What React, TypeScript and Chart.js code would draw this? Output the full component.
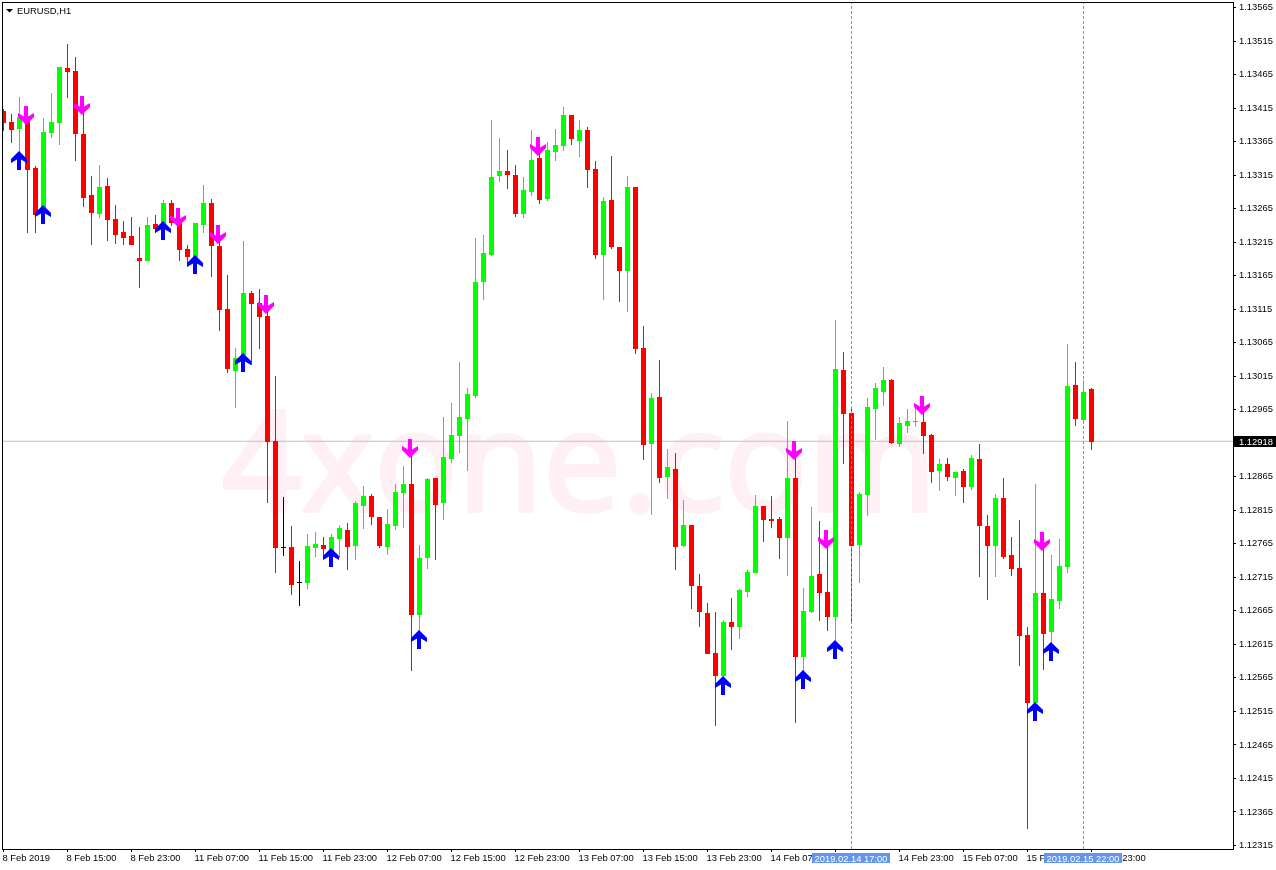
import React, { useEffect, useRef } from 'react';
import { Chart, registerables } from 'chart.js';

Chart.register(...registerables);

const symbolLabel = 'EURUSD,H1';
const watermark = '4xone.com';
const bidPrice = 1.12918;

const opens = [
  1.13411, 1.13394, 1.13384, 1.13397, 1.13326, 1.13258, 1.13378, 1.13393, 1.13475, 1.13470,
  1.13376, 1.13285, 1.13257, 1.13299, 1.13249, 1.13230, 1.13224, 1.13191, 1.13187, 1.13242,
  1.13242, 1.13273, 1.13244, 1.13205, 1.13193, 1.13241, 1.13273, 1.13209, 1.13115, 1.13023,
  1.13047, 1.13139, 1.13124, 1.13105, 1.12918, 1.12760, 1.12760, 1.12708, 1.12707, 1.12759,
  1.12763, 1.12753, 1.12772, 1.12786, 1.12762, 1.12821, 1.12836, 1.12805, 1.12760, 1.12792,
  1.12841, 1.12854, 1.12659, 1.12744, 1.12863, 1.12826, 1.12891, 1.12926, 1.12951, 1.12985,
  1.13156, 1.13196, 1.13314, 1.13321, 1.13315, 1.13257, 1.13290, 1.13340, 1.13279, 1.13349,
  1.13358, 1.13405, 1.13366, 1.13382, 1.13324, 1.13196, 1.13278, 1.13208, 1.13172, 1.13297,
  1.13057, 1.12914, 1.12984, 1.12865, 1.12877, 1.12762, 1.12793, 1.12702, 1.12662, 1.12602,
  1.12568, 1.12648, 1.12641, 1.12693, 1.12722, 1.12821, 1.12802, 1.12802, 1.12774, 1.12863,
  1.12596, 1.12663, 1.12720, 1.12693, 1.12656, 1.13024, 1.12960, 1.12763, 1.12838, 1.12966,
  1.12991, 1.13009, 1.12914, 1.12941, 1.12947, 1.12947, 1.12927, 1.12874, 1.12884, 1.12863,
  1.12874, 1.12850, 1.12891, 1.12792, 1.12762, 1.12833, 1.12748, 1.12729, 1.12629, 1.12528,
  1.12692, 1.12633, 1.12680, 1.12730, 1.13002, 1.12950, 1.12996,
];
const highs = [
  1.13414, 1.13406, 1.13431, 1.13400, 1.13329, 1.13400, 1.13437, 1.13476, 1.13511, 1.13491,
  1.13420, 1.13314, 1.13330, 1.13311, 1.13270, 1.13247, 1.13252, 1.13238, 1.13252, 1.13255,
  1.13278, 1.13278, 1.13255, 1.13211, 1.13244, 1.13300, 1.13279, 1.13218, 1.13166, 1.13057,
  1.13217, 1.13142, 1.13145, 1.13124, 1.13015, 1.12835, 1.12792, 1.12739, 1.12780, 1.12783,
  1.12775, 1.12780, 1.12793, 1.12796, 1.12829, 1.12851, 1.12839, 1.12805, 1.12817, 1.12854,
  1.12881, 1.12897, 1.12763, 1.12863, 1.12863, 1.12954, 1.12975, 1.13036, 1.12997, 1.13221,
  1.13226, 1.13397, 1.13370, 1.13352, 1.13330, 1.13312, 1.13382, 1.13352, 1.13364, 1.13384,
  1.13417, 1.13405, 1.13397, 1.13387, 1.13336, 1.13282, 1.13343, 1.13208, 1.13314, 1.13297,
  1.13090, 1.12990, 1.13039, 1.12906, 1.12900, 1.12830, 1.12793, 1.12720, 1.12677, 1.12663,
  1.12651, 1.12684, 1.12698, 1.12726, 1.12838, 1.12821, 1.12836, 1.12805, 1.12948, 1.12912,
  1.12699, 1.12820, 1.12799, 1.12786, 1.13099, 1.13051, 1.12968, 1.12842, 1.12982, 1.13005,
  1.13029, 1.13011, 1.12954, 1.12966, 1.12968, 1.12965, 1.12929, 1.12891, 1.12893, 1.12872,
  1.12877, 1.12897, 1.12914, 1.12808, 1.12839, 1.12863, 1.12775, 1.12800, 1.12641, 1.12854,
  1.12763, 1.12748, 1.12772, 1.13063, 1.13036, 1.13009, 1.12997,
];
const lows = [
  1.13381, 1.13363, 1.13345, 1.13229, 1.13229, 1.13251, 1.13370, 1.13360, 1.13430, 1.13336,
  1.13267, 1.13211, 1.13251, 1.13217, 1.13212, 1.13211, 1.13211, 1.13147, 1.13187, 1.13229,
  1.13236, 1.13239, 1.13187, 1.13184, 1.13185, 1.13229, 1.13163, 1.13082, 1.13020, 1.12968,
  1.13039, 1.13032, 1.13056, 1.12826, 1.12721, 1.12747, 1.12689, 1.12672, 1.12698, 1.12745,
  1.12744, 1.12744, 1.12744, 1.12726, 1.12741, 1.12787, 1.12793, 1.12759, 1.12748, 1.12786,
  1.12789, 1.12575, 1.12633, 1.12727, 1.12741, 1.12800, 1.12886, 1.12900, 1.12874, 1.12982,
  1.13129, 1.13194, 1.13305, 1.13294, 1.13252, 1.13251, 1.13284, 1.13272, 1.13276, 1.13336,
  1.13351, 1.13360, 1.13342, 1.13296, 1.13190, 1.13129, 1.13205, 1.13126, 1.13111, 1.13048,
  1.12890, 1.12808, 1.12856, 1.12832, 1.12726, 1.12760, 1.12668, 1.12641, 1.12601, 1.12493,
  1.12565, 1.12607, 1.12623, 1.12686, 1.12722, 1.12768, 1.12789, 1.12742, 1.12717, 1.12498,
  1.12574, 1.12662, 1.12650, 1.12635, 1.12619, 1.12884, 1.12648, 1.12707, 1.12806, 1.12920,
  1.12971, 1.12914, 1.12909, 1.12930, 1.12939, 1.12899, 1.12856, 1.12844, 1.12859, 1.12836,
  1.12826, 1.12845, 1.12715, 1.12681, 1.12715, 1.12742, 1.12717, 1.12583, 1.12340, 1.12525,
  1.12577, 1.12614, 1.12668, 1.12722, 1.12941, 1.12947, 1.12905,
];
const closes = [
  1.13393, 1.13382, 1.13402, 1.13323, 1.13255, 1.13379, 1.13394, 1.13476, 1.13469, 1.13376,
  1.13281, 1.13258, 1.13297, 1.13248, 1.13226, 1.13221, 1.13211, 1.13187, 1.13241, 1.13235,
  1.13273, 1.13244, 1.13203, 1.13193, 1.13244, 1.13273, 1.13209, 1.13114, 1.13026, 1.13042,
  1.13139, 1.13123, 1.13103, 1.12917, 1.12759, 1.12760, 1.12704, 1.12708, 1.12762, 1.12765,
  1.12757, 1.12775, 1.12789, 1.12760, 1.12826, 1.12836, 1.12805, 1.12762, 1.12795, 1.12842,
  1.12854, 1.12659, 1.12744, 1.12862, 1.12823, 1.12894, 1.12927, 1.12954, 1.12988, 1.13156,
  1.13199, 1.13312, 1.13321, 1.13315, 1.13257, 1.13293, 1.13338, 1.13278, 1.13352, 1.13360,
  1.13405, 1.13369, 1.13382, 1.13323, 1.13196, 1.13276, 1.13208, 1.13172, 1.13297, 1.13056,
  1.12912, 1.12982, 1.12863, 1.12880, 1.12760, 1.12793, 1.12702, 1.12663, 1.12601, 1.12568,
  1.12648, 1.12641, 1.12696, 1.12723, 1.12821, 1.12800, 1.12799, 1.12774, 1.12863, 1.12596,
  1.12665, 1.12717, 1.12692, 1.12656, 1.13026, 1.12959, 1.12762, 1.12839, 1.12969, 1.12997,
  1.13009, 1.12915, 1.12945, 1.12948, 1.12948, 1.12926, 1.12872, 1.12884, 1.12865, 1.12872,
  1.12850, 1.12893, 1.12792, 1.12762, 1.12833, 1.12745, 1.12727, 1.12627, 1.12528, 1.12692,
  1.12630, 1.12683, 1.12732, 1.13000, 1.12951, 1.12991, 1.12917,
];

// indicator arrows: bar index and the price the glyph is centred on
const buyBars = [2, 5, 20, 24, 30, 41, 52, 90, 100, 104, 129, 131];
const buyPrices = [1.13337, 1.13256, 1.13232, 1.13182, 1.13035, 1.12745, 1.12622, 1.12554, 1.12563, 1.12607, 1.12515, 1.12604];
const sellBars = [3, 10, 22, 27, 33, 51, 67, 99, 103, 115, 130];
const sellPrices = [1.13404, 1.13419, 1.13252, 1.13226, 1.13122, 1.12907, 1.13358, 1.12904, 1.12771, 1.12971, 1.12768];

const priceTicks = [
  1.12315, 1.12365, 1.12415, 1.12465, 1.12515, 1.12565, 1.12615, 1.12665, 1.12715, 1.12765, 1.12815, 1.12865, 1.12915,
  1.12965, 1.13015, 1.13065, 1.13115, 1.13165, 1.13215, 1.13265, 1.13315, 1.13365, 1.13415, 1.13465, 1.13515, 1.13565,
];
const timeTickBars = [0, 8, 16, 24, 32, 40, 48, 56, 64, 72, 80, 88, 96, 104, 112, 120, 128, 136];
const timeTickLabels = [
  '8 Feb 2019', '8 Feb 15:00', '8 Feb 23:00', '11 Feb 07:00', '11 Feb 15:00', '11 Feb 23:00',
  '12 Feb 07:00', '12 Feb 15:00', '12 Feb 23:00', '13 Feb 07:00', '13 Feb 15:00', '13 Feb 23:00',
  '14 Feb 07:00', '14 Feb 15:00', '14 Feb 23:00', '15 Feb 07:00', '15 Feb 15:00', '15 Feb 23:00',
];
const separatorBars = [106, 135];
const separatorLabels = ['2019.02.14 17:00', '2019.02.15 22:00'];

const X_MIN = -0.1875;
const X_MAX = 153.6875;
const Y_MIN = 1.123098;
const Y_MAX = 1.135732;

const FONT = '"Liberation Sans"';
const FONT_SIZE = 9.4;
const BLUE = '#6495ed';

const candleColors = opens.map((o, i) => (closes[i] > o ? '#00ff00' : closes[i] < o ? '#ff0000' : '#000000'));

function arrowGlyph(color: string, down: boolean, width: number) {
  const c = document.createElement('canvas');
  c.width = width;
  c.height = 19;
  const ctx = c.getContext('2d')!;
  if (down) {
    ctx.translate(0, 19);
    ctx.scale(1, -1);
  }
  ctx.fillStyle = color;
  ctx.beginPath();
  ctx.moveTo(8, 0);
  ctx.lineTo(16, 8);
  ctx.lineTo(16, 12);
  ctx.lineTo(10, 8.5);
  ctx.lineTo(10, 19);
  ctx.lineTo(6, 19);
  ctx.lineTo(6, 8.5);
  ctx.lineTo(0, 12);
  ctx.lineTo(0, 8);
  ctx.closePath();
  ctx.fill();
  return c;
}

function noScalePadding(scale: any) {
  scale.paddingLeft = 0;
  scale.paddingRight = 0;
  scale.paddingTop = 0;
  scale.paddingBottom = 0;
}

// keep candles and arrows on whole pixels, like the terminal does
const snapPlugin = {
  id: 'snap',
  afterDatasetsUpdate(chart: any) {
    chart.getSortedVisibleDatasetMetas().forEach((meta: any) => {
      meta.data.forEach((el: any) => {
        if (meta.type === 'bar') {
          el.y = Math.round(el.y);
          el.base = Math.round(el.base);
          if (el.y === el.base) el.base = el.y + 1;
        } else if (meta.type === 'line' && meta.controller.getDataset().isArrow) {
          el.y = Math.floor(el.y) + 0.5;
        }
      });
    });
  },
};

const watermarkPlugin = {
  id: 'watermark',
  beforeDatasetsDraw(chart: any) {
    const ctx = chart.ctx;
    ctx.save();
    ctx.fillStyle = '#fff0f5';
    ctx.strokeStyle = '#fff0f5';
    ctx.lineWidth = 4;
    ctx.lineJoin = 'round';
    ctx.font = '139px "Open Sans"';
    ctx.textBaseline = 'alphabetic';
    ctx.fillText(watermark, 222, 511);
    ctx.strokeText(watermark, 222, 511);
    ctx.restore();
  },
};

const framePlugin = {
  id: 'frame',
  afterDraw(chart: any) {
    const { ctx, chartArea, scales } = chart;
    ctx.save();
    ctx.strokeStyle = '#000000';
    ctx.lineWidth = 1;
    ctx.strokeRect(chartArea.left + 0.5, chartArea.top + 0.5, chartArea.right - chartArea.left, chartArea.bottom - chartArea.top);

    // symbol caption
    ctx.fillStyle = '#000000';
    ctx.beginPath();
    ctx.moveTo(6, 9);
    ctx.lineTo(13, 9);
    ctx.lineTo(9.5, 12.5);
    ctx.closePath();
    ctx.fill();
    ctx.font = `${FONT_SIZE}px ${FONT}`;
    ctx.textBaseline = 'alphabetic';
    ctx.textAlign = 'left';
    ctx.fillText(symbolLabel, 17, 14);

    // bid price tag
    const bidY = Math.floor(scales.y.getPixelForValue(bidPrice));
    ctx.fillRect(chartArea.right + 1, bidY - 5, 42, 11);
    ctx.fillStyle = '#ffffff';
    ctx.fillText(bidPrice.toFixed(5), chartArea.right + 6, bidY + 4);

    // period separator date tags
    separatorBars.forEach((bar, i) => {
      const x = scales.x.getPixelForValue(bar);
      ctx.fillStyle = BLUE;
      ctx.fillRect(x - 39.5, chartArea.bottom + 4, 78, 10);
      ctx.fillStyle = '#ffffff';
      ctx.textAlign = 'center';
      ctx.fillText(separatorLabels[i], x - 0.5, chartArea.bottom + 13);
    });
    ctx.restore();
  },
};

export default function App() {
  const ref = useRef<HTMLCanvasElement>(null);

  useEffect(() => {
    document.body.style.margin = '0';
    if (!ref.current) return;

    const chart = new Chart(ref.current, {
      type: 'bar',
      data: {
        datasets: [
          {
            type: 'line',
            data: [{ x: X_MIN, y: bidPrice }, { x: X_MAX, y: bidPrice }],
            borderColor: '#c0c0c0',
            borderWidth: 1,
            pointRadius: 0,
            order: 9,
          },
          {
            data: opens.map((_, i) => ({ x: i, y: [lows[i], highs[i]] })),
            backgroundColor: candleColors,
            barThickness: 1,
            grouped: false,
            inflateAmount: 0,
            order: 5,
          },
          {
            data: opens.map((o, i) => ({ x: i, y: [o, closes[i]] })),
            backgroundColor: candleColors,
            barThickness: 5,
            grouped: false,
            inflateAmount: 0,
            order: 4,
          },
          ...separatorBars.map((bar) => ({
            type: 'line',
            data: [{ x: bar, y: Y_MIN }, { x: bar, y: Y_MAX }],
            borderColor: BLUE,
            borderWidth: 1,
            borderDash: [3, 2],
            pointRadius: 0,
            order: 3,
          })),
          {
            type: 'line',
            isArrow: true,
            data: buyBars.map((bar, i) => ({ x: bar, y: buyPrices[i] })),
            showLine: false,
            pointStyle: arrowGlyph('#0000ff', false, 17),
            order: 1,
          },
          {
            type: 'line',
            isArrow: true,
            data: sellBars.map((bar, i) => ({ x: bar, y: sellPrices[i] })),
            showLine: false,
            pointStyle: arrowGlyph('#ff00ff', true, 19),
            order: 2,
          },
        ] as any,
      },
      options: {
        animation: false,
        responsive: false,
        devicePixelRatio: 1,
        events: [],
        layout: { autoPadding: false, padding: { left: 2, top: 2, right: 0, bottom: 0 } },
        plugins: { legend: { display: false }, tooltip: { enabled: false } },
        scales: {
          x: {
            type: 'linear',
            min: X_MIN,
            max: X_MAX,
            offset: false,
            afterBuildTicks: (scale: any) => {
              scale.ticks = timeTickBars.map((value) => ({ value }));
            },
            afterFit: (scale: any) => {
              scale.height = 21;
              noScalePadding(scale);
            },
            grid: { drawOnChartArea: false, offset: false, tickLength: 3, tickColor: '#000000' },
            border: { color: '#000000' },
            ticks: {
              autoSkip: false,
              maxRotation: 0,
              align: 'start',
              labelOffset: -1,
              padding: 1,
              color: '#000000',
              font: { family: FONT, size: FONT_SIZE },
              callback: (value: any) => timeTickLabels[timeTickBars.indexOf(value)],
            },
          },
          y: {
            type: 'linear',
            position: 'right',
            min: Y_MIN,
            max: Y_MAX,
            afterBuildTicks: (scale: any) => {
              scale.ticks = priceTicks.map((value) => ({ value }));
            },
            afterFit: (scale: any) => {
              scale.width = 43;
              noScalePadding(scale);
            },
            grid: { drawOnChartArea: false, tickLength: 3, tickColor: '#000000' },
            border: { color: '#000000' },
            ticks: {
              autoSkip: false,
              padding: 3,
              color: '#000000',
              font: { family: FONT, size: FONT_SIZE },
              callback: (value: any) => Number(value).toFixed(5),
            },
          },
        },
      },
      plugins: [snapPlugin, watermarkPlugin, framePlugin],
    } as any);

    return () => chart.destroy();
  }, []);

  return <canvas ref={ref} width={1276} height={870} style={{ display: 'block' }} />;
}
